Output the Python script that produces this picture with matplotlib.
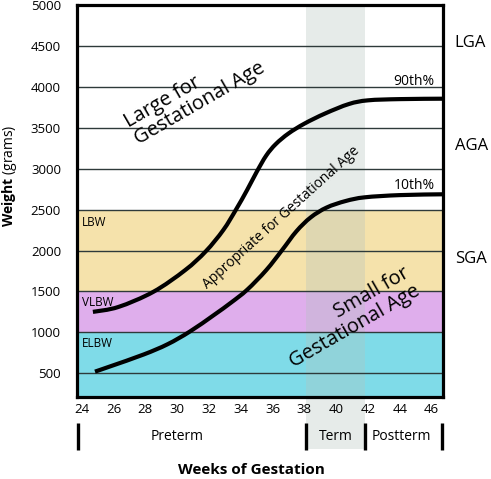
import matplotlib
matplotlib.use("Agg")
import matplotlib.pyplot as plt
import matplotlib.transforms as mtransforms
from matplotlib.path import Path
from matplotlib.patches import PathPatch

plt.rcParams['font.family'] = ['Open Sans', 'DejaVu Sans']
plt.rcParams['mathtext.fontset'] = 'custom'
plt.rcParams['mathtext.rm'] = 'Open Sans'
plt.rcParams['mathtext.bf'] = 'Open Sans:bold'

# ---- data ----
weeks_90 = [24.7, 26.3, 28.5, 30.5, 31.8, 32.9, 33.7, 34.4, 35.0, 35.6,
            36.2, 37.0, 38.0, 39.3, 40.8, 42.0, 44.0, 46.7]
grams_90 = [1250, 1310, 1495, 1760, 1990, 2250, 2500, 2740, 2960, 3160,
            3300, 3430, 3550, 3674, 3790, 3835, 3850, 3855]
weeks_10 = [24.83, 25.8, 27.9, 29.4, 30.8, 32.3, 33.4, 34.4, 35.6, 36.6,
            37.5, 38.4, 39.4, 40.6, 41.8, 44.0, 46.7]
grams_10 = [520, 585, 730, 855, 1010, 1210, 1365, 1520, 1760, 2005,
            2235, 2405, 2525, 2605, 2650, 2677, 2687]

y_ticks = [500, 1000, 1500, 2000, 2500, 3000, 3500, 4000, 4500, 5000]
x_ticks = [24, 26, 28, 30, 32, 34, 36, 38, 40, 42, 44, 46]
bands = [(210, 1000, '#7fdbe8', 'ELBW', 863),
         (1000, 1500, '#dfaeec', 'VLBW', 1365),
         (1500, 2500, '#f5e2ab', 'LBW', 2346)]
term_start, term_end = 38.1, 41.8
periods = [('Preterm', 23.7, 38.1), ('Term', 38.1, 41.8), ('Postterm', 41.8, 46.7)]
right_labels = [('LGA', 4532), ('AGA', 3275), ('SGA', 1900)]


def smooth_path(xs, ys):
    """Catmull-Rom curve through the given points, as cubic Bezier segments."""
    pts = list(zip(xs, ys))
    verts = [pts[0]]
    codes = [Path.MOVETO]
    n = len(pts)
    for i in range(n - 1):
        p0 = pts[i - 1] if i > 0 else pts[i]
        p1 = pts[i]
        p2 = pts[i + 1]
        p3 = pts[i + 2] if i + 2 < n else pts[i + 1]
        c1 = (p1[0] + (p2[0] - p0[0]) / 6.0, p1[1] + (p2[1] - p0[1]) / 6.0)
        c2 = (p2[0] - (p3[0] - p1[0]) / 6.0, p2[1] - (p3[1] - p1[1]) / 6.0)
        verts += [c1, c2, p2]
        codes += [Path.CURVE4] * 3
    return Path(verts, codes)


# ---- figure ----
fig = plt.figure(figsize=(4.91, 4.79), dpi=100)
ax = fig.add_axes([77/491, 1-397/479, (442.7-77)/491, 392/479])
xmin, xmax, ymin, ymax = 23.7, 46.7, 210, 5000
ax.set_xlim(xmin, xmax)
ax.set_ylim(ymin, ymax)

for lo, hi, col, lab, ly in bands:
    ax.axhspan(lo, hi, color=col, zorder=0, lw=0)
    ax.text(24.0, ly, lab, fontsize=8.5, ha='left', va='center', zorder=5)

ax.axvspan(term_start, term_end, color='#b4c3bf', alpha=0.33, lw=0, zorder=1)

for yv in y_ticks[:-1]:
    ax.axhline(yv, color='#2e3a3a', lw=1.0, zorder=2)

for xs, ys in [(weeks_90, grams_90), (weeks_10, grams_10)]:
    ax.add_patch(PathPatch(smooth_path(xs, ys), facecolor='none',
                           edgecolor='black', lw=3.0, capstyle='butt',
                           joinstyle='round', zorder=4))

ax.set_xticks(x_ticks)
ax.set_yticks(y_ticks)
ax.tick_params(axis='both', length=0, labelsize=9.5)
ax.tick_params(axis='y', pad=11.5)
ax.tick_params(axis='x', pad=4.5)
for s in ax.spines.values():
    s.set_linewidth(2.3)
    s.set_zorder(6)

# annotations
ax.text(46.2, 4021, '90th%', fontsize=10, ha='right', va='baseline', zorder=5)
ax.text(46.2, 2755, '10th%', fontsize=10, ha='right', va='baseline', zorder=5)
ax.text(31.1, 3900, 'Large for\nGestational Age', fontsize=14.5, rotation=30,
        ha='center', va='center', multialignment='left', rotation_mode='anchor',
        linespacing=1.05, zorder=5)
ax.text(36.55, 2403, 'Appropriate for Gestational Age', fontsize=10, rotation=42,
        ha='center', va='center', rotation_mode='anchor', zorder=5)
ax.text(40.85, 1180, 'Small for\nGestational Age', fontsize=14.5, rotation=30,
        ha='center', va='center', multialignment='right', rotation_mode='anchor',
        linespacing=1.05, zorder=5)

for lab, yv in right_labels:
    ax.text(47.45, yv, lab, fontsize=12, ha='left', va='center', clip_on=False)

# bottom period bracket
trans = mtransforms.blended_transform_factory(ax.transData, ax.transAxes)
ax.add_patch(plt.Rectangle((term_start, -0.133), term_end - term_start, 0.133,
                           transform=trans, color='#b4c3bf', alpha=0.33, lw=0,
                           clip_on=False))
bar_x = [24.0 - 0.25, term_start, term_end, xmax - 0.05]
for bx in bar_x:
    ax.plot([bx, bx], [-0.0656, -0.135], transform=trans, color='black', lw=2.4,
            clip_on=False, solid_capstyle='butt')
label_x = [30.0, 39.95, 44.1]
for (lab, a, b), lx in zip(periods, label_x):
    ax.text(lx, -0.0995, lab, transform=trans, fontsize=10, ha='center',
            va='center', clip_on=False)

fig.text(251.7/491, 1-470/479, 'Weeks of Gestation', fontsize=11,
         fontweight='bold', ha='center', va='center')
fig.text(10/491, 1-176/479, r'$\mathbf{Weight}$ (grams)', fontsize=10,
         rotation=90, ha='center', va='center')

fig.savefig('out.png', dpi=100)
